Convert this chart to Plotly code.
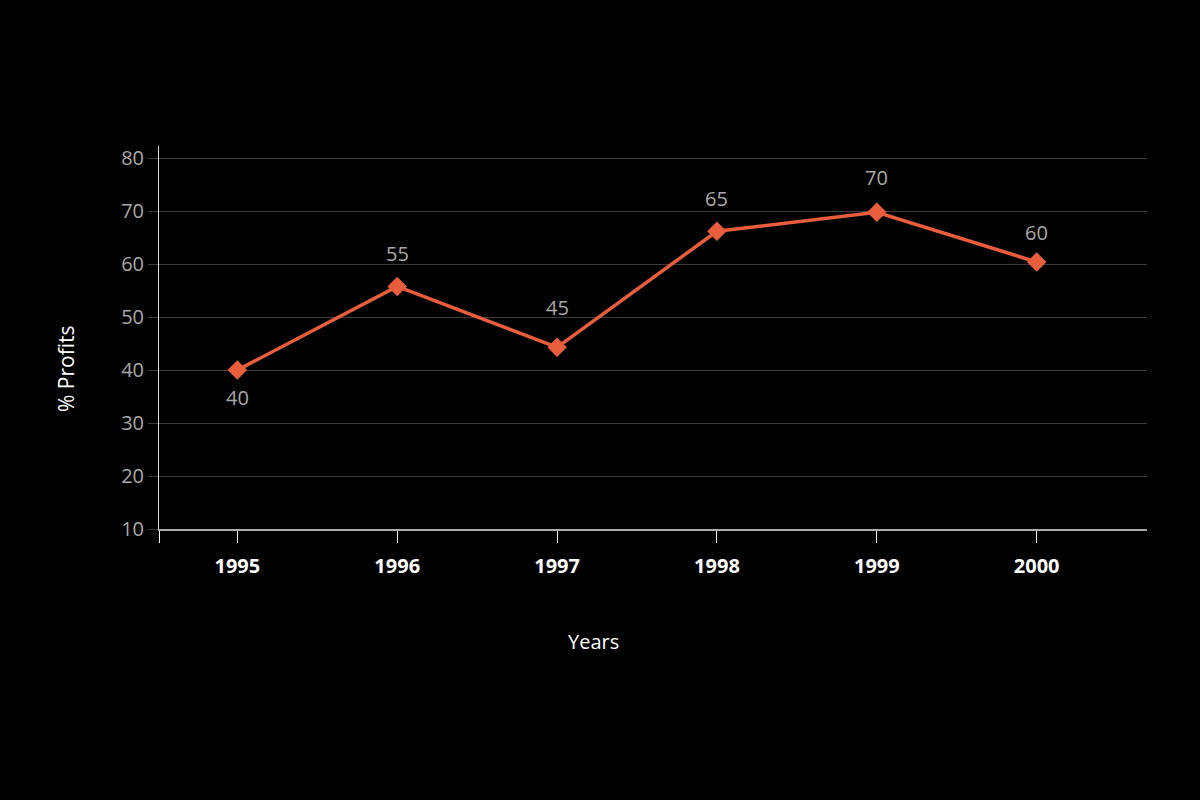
import plotly.graph_objects as go

years = [1995, 1996, 1997, 1998, 1999, 2000]
profits = [40, 55.8, 44.3, 66.2, 69.8, 60.4]
point_labels = ["40", "55", "45", "65", "70", "60"]
y_ticks = [10, 20, 30, 40, 50, 60, 70, 80]
x_title = "Years"
y_title = "% Profits"

label_shift = [-27, 33, 40, 33, 35, 30]

LINE = "#E85D3C"
FONT = "Open Sans"

fig = go.Figure()
fig.add_trace(go.Scatter(
    x=years, y=profits, mode="lines+markers",
    line=dict(color=LINE, width=3.5),
    marker=dict(symbol="diamond", size=15, color=LINE),
    hoverinfo="skip", showlegend=False,
))

for x, y, t, s in zip(years, profits, point_labels, label_shift):
    fig.add_annotation(x=x, y=y, text=t, showarrow=False, yshift=s,
                       font=dict(family=FONT, size=20, color="#a8a8a8"))

# axis titles placed as in the reference (off-centre)
fig.add_annotation(text=x_title, xref="paper", yref="paper", x=0.44, y=-0.295,
                   xanchor="center", yanchor="middle", showarrow=False,
                   font=dict(family=FONT, size=20, color="white"))
fig.add_annotation(text=y_title, xref="paper", yref="paper", x=-0.094, y=0.418,
                   xanchor="center", yanchor="middle", showarrow=False, textangle=-90,
                   font=dict(family=FONT, size=21, color="white"))

x0 = years[0] - 0.49
fig.update_layout(
    width=1200, height=800,
    paper_bgcolor="black", plot_bgcolor="black",
    margin=dict(l=159, r=53, t=146, b=271),
    font=dict(family=FONT, color="white"),
    xaxis=dict(
        range=[x0, years[-1] + 0.69],
        tickvals=[x0 + 0.003] + years,
        ticktext=[""] + [f"<b>{y}</b>" for y in years],
        ticks="outside", ticklen=12, tickcolor="white", tickwidth=1,
        ticklabelstandoff=6,
        tickfont=dict(size=20, color="white", family=FONT),
        showgrid=False, zeroline=False,
        showline=True, linecolor="#aaaaaa", linewidth=2,
    ),
    yaxis=dict(
        range=[10, 82.3],
        tickvals=y_ticks,
        ticks="outside", ticklen=10, tickcolor="#3c3c3c", tickwidth=1,
        tickfont=dict(size=20, color="#a8a8a8", family=FONT),
        showgrid=True, gridcolor="#3c3c3c", gridwidth=1,
        zeroline=False,
        showline=True, linecolor="#dddddd", linewidth=1,
    ),
)

fig.write_html("out.html", config={"displayModeBar": False})

with open("out.html", "r", encoding="utf-8") as f:
    html = f.read()
html = html.replace("<body>", '<body style="margin:0;background:black;">', 1)
with open("out.html", "w", encoding="utf-8") as f:
    f.write(html)
